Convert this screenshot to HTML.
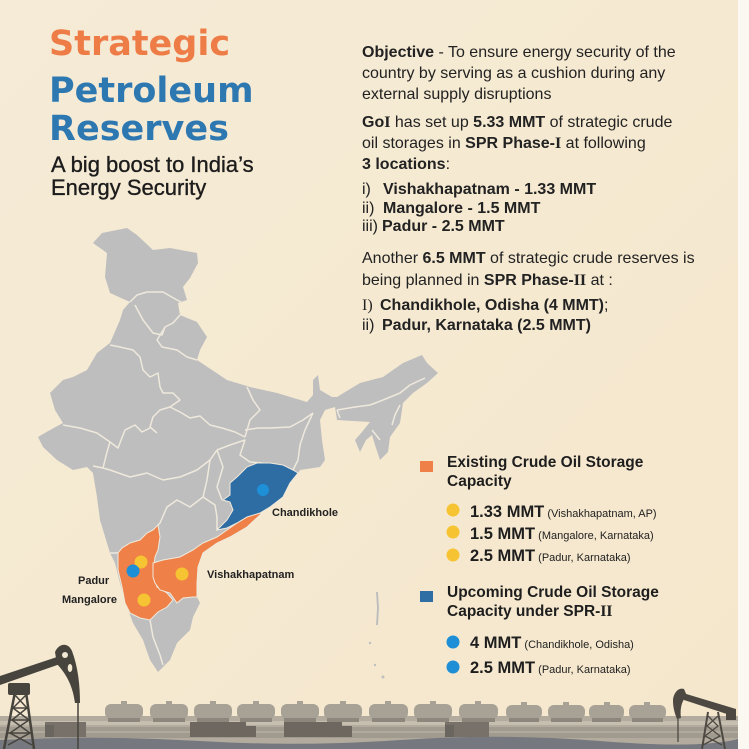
<!DOCTYPE html>
<html><head><meta charset="utf-8"><style>
html,body{margin:0;padding:0;background:#f5ead3;}
svg{display:block;}
</style></head><body>
<svg width="749" height="749" viewBox="0 0 749 749" xmlns="http://www.w3.org/2000/svg">
<defs>
<linearGradient id="bg" x1="0" y1="0" x2="1" y2="1">
<stop offset="0" stop-color="#f5ebd6"/><stop offset="1" stop-color="#f5e7cc"/>
</linearGradient>
</defs>
<rect x="0" y="0" width="749" height="749" fill="url(#bg)"/>

<!-- Title -->
<g font-family="DejaVu Sans, Liberation Sans, sans-serif" font-weight="bold" font-size="35">
<text x="49" y="55" fill="#ee7c46">Strategic</text>
<text x="49" y="102" fill="#2e78b2">Petroleum</text>
<text x="49" y="140" fill="#2e78b2">Reserves</text>
</g>
<g font-family="Liberation Sans, sans-serif" font-size="22" fill="#1c1c1c" stroke="#1c1c1c" stroke-width="0.35">
<text x="51" y="172">A big boost to India’s</text>
<text x="51" y="195">Energy Security</text>
</g>

<!-- Right text block -->
<g font-family="Liberation Sans, sans-serif" font-size="16" fill="#222">
<text x="362" y="57"><tspan font-weight="bold">Objective</tspan> - To ensure energy security of the</text>
<text x="362" y="78">country by serving as a cushion during any</text>
<text x="362" y="99">external supply disruptions</text>
<text x="362" y="127"><tspan font-weight="bold">Go</tspan><tspan font-weight="bold" font-family="Liberation Serif, serif">I</tspan> has set up <tspan font-weight="bold">5.33 MMT</tspan> of strategic crude</text>
<text x="362" y="148">oil storages in <tspan font-weight="bold">SPR Phase-</tspan><tspan font-weight="bold" font-family="Liberation Serif, serif">I</tspan> at following</text>
<text x="362" y="169"><tspan font-weight="bold">3 locations</tspan>:</text>
<text x="362" y="194">i)</text><text x="383" y="194" font-weight="bold">Vishakhapatnam - 1.33 MMT</text>
<text x="362" y="213">ii)</text><text x="383" y="213" font-weight="bold">Mangalore - 1.5 MMT</text>
<text x="362" y="231">iii)</text><text x="382" y="231" font-weight="bold">Padur - 2.5 MMT</text>
<text x="362" y="263">Another <tspan font-weight="bold">6.5 MMT</tspan> of strategic crude reserves is</text>
<text x="362" y="285">being planned in <tspan font-weight="bold">SPR Phase-</tspan><tspan font-weight="bold" font-family="Liberation Serif, serif">II</tspan> at :</text>
<text x="362" y="310" font-family="Liberation Serif, serif">I)</text><text x="380" y="310"><tspan font-weight="bold">Chandikhole, Odisha (4 MMT)</tspan>;</text>
<text x="362" y="330">ii)</text><text x="382" y="330" font-weight="bold">Padur, Karnataka (2.5 MMT)</text>
</g>

<!-- Map -->
<path fill="#bebebf" d="M93,243 L102,233 L127,228 L137,235 L153,250 L170,248 L197,253 L198,263 L190,278 L183,287 L187,300 L178,303 L180,315 L197,322 L207,337 L200,350 L197,360 L227,380 L250,387 L277,393 L307,402 L313,395 L313,380 L318,375 L320,390 L332,397 L337,397 L360,383 L383,377 L403,363 L422,355 L427,363 L438,373 L427,383 L413,393 L403,403 L400,423 L390,437 L388,452 L380,460 L375,445 L372,435 L366,440 L360,452 L355,440 L362,432 L370,422 L337,420 L335,407 L325,410 L320,420 L322,440 L325,460 L320,467 L300,470 L298,473 L290,483 L283,497 L270,507 L260,513 L247,527 L230,537 L217,543 L203,553 L198,567 L197,583 L197,597 L200,603 L193,617 L190,630 L177,643 L170,660 L158,672 L150,660 L143,640 L133,623 L127,607 L120,583 L115,563 L110,553 L100,520 L97,497 L93,473 L87,467 L73,470 L57,460 L43,447 L38,437 L50,430 L63,423 L55,410 L50,393 L63,380 L73,377 L87,370 L97,353 L110,343 L120,320 L123,310 L130,302 L110,293 L105,277 L107,253 Z"/>
<!-- Andaman islands -->
<path d="M377,592 L378,608 L377,625" stroke="#bebebf" stroke-width="2" fill="none"/>
<circle cx="370" cy="643" r="1.2" fill="#bebebf"/><circle cx="375" cy="665" r="1.2" fill="#bebebf"/><circle cx="383" cy="677" r="1.5" fill="#bebebf"/>

<!-- state borders -->
<g fill="none" stroke="#efe9dc" stroke-width="1.5" stroke-linejoin="round">
<polyline points="130,302 137,295 147,292 163,292 177,300 183,303"/>
<polyline points="135,305 143,320 153,333 162,335 165,327 173,323 180,315"/>
<polyline points="165,327 157,340 162,347 177,350 187,357 197,360"/>
<polyline points="110,345 120,347 133,350 140,357 143,370 150,377 158,373 160,387 163,393 173,393 180,400 170,407 160,410 153,417 150,427 157,433"/>
<polyline points="63,425 80,428 97,433 110,442 118,448 125,430 135,425 142,432 150,428"/>
<polyline points="170,407 180,412 190,418 200,416 210,425 222,428 235,432 245,437"/>
<polyline points="247,387 253,400 260,410 250,420 245,437"/>
<polyline points="245,430 258,428 270,428 290,427 303,420 313,413"/>
<polyline points="217,450 230,445 245,440 240,455 250,462 262,463"/>
<polyline points="93,466 103,468 110,470 130,477 147,473 163,480 180,477 197,470 210,460 217,450"/>
<polyline points="110,442 107,452 103,468"/>
<polyline points="210,460 207,480 203,497 190,507 177,500 167,507 160,523 158,525"/>
<polyline points="203,497 215,505 217,517 217,530"/>
<polyline points="217,450 223,467 217,487 222,500"/>
<polyline points="150,620 153,637 160,655 163,665"/>
<polyline points="110,553 118,553"/>
<polyline points="313,413 305,430 300,445 298,460 293,470"/>
<polyline points="337,410 355,407 370,405 383,400 400,393 410,385 425,378"/>
<polyline points="337,410 340,418"/>
<polyline points="400,405 395,415 392,425"/>
<polyline points="372,430 380,440"/>
</g>

<!-- Karnataka -->
<polygon fill="#ee8048" stroke="#f0eadc" stroke-width="1" points="158,525 160,537 158,550 155,557 153,573 157,587 167,593 173,600 167,607 158,612 150,620 140,618 130,613 125,603 122,587 118,570 118,553 122,548 130,543 140,540 147,533 153,530"/>
<!-- Andhra Pradesh -->
<polygon fill="#ee8048" stroke="#f0eadc" stroke-width="1" points="153,563 163,560 180,557 193,550 203,543 217,537 227,530 237,523 247,517 253,513 262,513 260,515 247,527 230,537 217,543 203,553 198,567 197,583 197,597 193,597 183,598 177,603 170,593 160,590 155,583 153,577"/>
<!-- Odisha -->
<polygon fill="#2e6ca4" stroke="#f0eadc" stroke-width="1" points="217,530 227,520 233,510 230,502 223,500 230,495 230,483 237,477 247,467 257,463 270,463 283,465 293,470 298,473 290,483 283,497 270,507 260,513 247,517 237,523 227,528"/>

<!-- dots -->
<circle cx="263" cy="490" r="6" fill="#1e90d8"/>
<circle cx="141" cy="562" r="6.5" fill="#f6c432"/>
<circle cx="133" cy="571" r="6.5" fill="#1e8fd6"/>
<circle cx="144" cy="600" r="6.5" fill="#f6c432"/>
<circle cx="182" cy="574" r="6.5" fill="#f6c432"/>

<!-- map labels -->
<g font-family="Liberation Sans, sans-serif" font-weight="bold" font-size="11" fill="#222">
<text x="272" y="516">Chandikhole</text>
<text x="207" y="578">Vishakhapatnam</text>
<text x="78" y="584">Padur</text>
<text x="62" y="603">Mangalore</text>
</g>

<!-- Legend -->
<rect x="420" y="461" width="13" height="11" fill="#ee8048"/>
<rect x="420" y="591" width="13" height="11" fill="#2f6ea5"/>
<g font-family="Liberation Sans, sans-serif" fill="#1e1e1e">
<text x="447" y="467" font-weight="bold" font-size="15.5">Existing Crude Oil Storage</text>
<text x="447" y="486" font-weight="bold" font-size="15.5">Capacity</text>
<text x="447" y="597" font-weight="bold" font-size="15.5">Upcoming Crude Oil Storage</text>
<text x="447" y="616" font-weight="bold" font-size="15.5">Capacity under SPR-<tspan font-family="Liberation Serif, serif">II</tspan></text>
<text x="470" y="517"><tspan font-weight="bold" font-size="16.5">1.33 MMT</tspan><tspan font-size="11"> (Vishakhapatnam, AP)</tspan></text>
<text x="470" y="539"><tspan font-weight="bold" font-size="16.5">1.5 MMT</tspan><tspan font-size="11"> (Mangalore, Karnataka)</tspan></text>
<text x="470" y="561"><tspan font-weight="bold" font-size="16.5">2.5 MMT</tspan><tspan font-size="11"> (Padur, Karnataka)</tspan></text>
<text x="470" y="648"><tspan font-weight="bold" font-size="16.5">4 MMT</tspan><tspan font-size="11"> (Chandikhole, Odisha)</tspan></text>
<text x="470" y="673"><tspan font-weight="bold" font-size="16.5">2.5 MMT</tspan><tspan font-size="11"> (Padur, Karnataka)</tspan></text>
</g>
<circle cx="453" cy="510" r="6.5" fill="#f6c432"/>
<circle cx="453" cy="532" r="6.5" fill="#f6c432"/>
<circle cx="453" cy="555" r="6.5" fill="#f6c432"/>
<circle cx="453" cy="642" r="6.5" fill="#1e8fd6"/>
<circle cx="453" cy="667" r="6.5" fill="#1e8fd6"/>

<!-- Ground -->
<rect x="0" y="716" width="738" height="33" fill="#b3ac9e"/>
<rect x="0" y="721" width="738" height="4" fill="#c6bfaf"/>
<rect x="0" y="727" width="738" height="11" fill="#a09a8f"/>
<line x1="0" y1="732" x2="738" y2="732" stroke="#bbb4a5" stroke-width="1.2"/>
<path d="M0,740 Q100,735 200,741 T400,740 T600,741 T738,739 L738,749 L0,749 Z" fill="#76787f"/>

<!-- Tank cars -->
<g fill="#a8a196">
<rect x="105" y="704" width="38" height="15" rx="6"/><rect x="121" y="701" width="6" height="4"/>
<rect x="150" y="704" width="38" height="15" rx="6"/><rect x="166" y="701" width="6" height="4"/>
<rect x="194" y="704" width="38" height="15" rx="6"/><rect x="210" y="701" width="6" height="4"/>
<rect x="237" y="704" width="38" height="15" rx="6"/><rect x="253" y="701" width="6" height="4"/>
<rect x="281" y="704" width="38" height="15" rx="6"/><rect x="297" y="701" width="6" height="4"/>
<rect x="324" y="704" width="38" height="15" rx="6"/><rect x="340" y="701" width="6" height="4"/>
<rect x="369" y="704" width="39" height="15" rx="6"/><rect x="385" y="701" width="6" height="4"/>
<rect x="414" y="704" width="38" height="15" rx="6"/><rect x="430" y="701" width="6" height="4"/>
<rect x="459" y="704" width="39" height="15" rx="6"/><rect x="475" y="701" width="6" height="4"/>
<rect x="506" y="705" width="36" height="14" rx="6"/><rect x="521" y="702" width="6" height="4"/>
<rect x="548" y="705" width="37" height="14" rx="6"/><rect x="563" y="702" width="6" height="4"/>
<rect x="589" y="705" width="35" height="14" rx="6"/><rect x="604" y="702" width="6" height="4"/>
<rect x="629" y="705" width="37" height="14" rx="6"/><rect x="644" y="702" width="6" height="4"/>
</g>
<g fill="#8c867c">
<rect x="108" y="718" width="32" height="4"/><rect x="153" y="718" width="32" height="4"/><rect x="197" y="718" width="32" height="4"/>
<rect x="240" y="718" width="32" height="4"/><rect x="284" y="718" width="32" height="4"/><rect x="327" y="718" width="32" height="4"/>
<rect x="372" y="718" width="33" height="4"/><rect x="417" y="718" width="32" height="4"/><rect x="462" y="718" width="33" height="4"/>
<rect x="509" y="718" width="30" height="4"/><rect x="551" y="718" width="31" height="4"/><rect x="592" y="718" width="29" height="4"/>
<rect x="632" y="718" width="31" height="4"/>
</g>

<!-- Trucks -->
<g fill="#77716a">
<rect x="45" y="722" width="41" height="15"/><rect x="45" y="725" width="9" height="12" fill="#6a655e"/>
<rect x="190" y="722" width="56" height="15" fill="#6d675f"/><rect x="246" y="726" width="10" height="11" fill="#6d675f"/>
<rect x="284" y="722" width="58" height="15" fill="#6d675f"/><rect x="342" y="726" width="10" height="11" fill="#6d675f"/>
<rect x="445" y="722" width="44" height="15"/><rect x="445" y="725" width="9" height="12" fill="#6a655e"/>
</g>

<!-- Left pumpjack -->
<g fill="#47433d" stroke="#47433d">
<line x1="15" y1="692" x2="4" y2="749" stroke-width="2.5"/>
<line x1="26" y1="692" x2="34" y2="749" stroke-width="2.5"/>
<polyline points="15,695 27,708 12,720 30,733 8,745" fill="none" stroke-width="1.5"/>
<polyline points="26,695 13,708 29,720 10,733 32,745" fill="none" stroke-width="1.5"/>
<line x1="12" y1="708" x2="28" y2="708" stroke-width="1.5"/>
<line x1="10" y1="720" x2="30" y2="720" stroke-width="1.5"/>
<line x1="7" y1="733" x2="32" y2="733" stroke-width="1.5"/>
<rect x="8" y="683" width="22" height="12" rx="2" stroke="none"/>
<polygon points="0,676 60,656 63,663 0,685" stroke="none"/>
<path d="M55,652 C59,643 68,642 72,651 C78,667 80,685 80,703 L75,703 C73,688 68,676 57,664 Z" stroke="none"/>
<line x1="78" y1="703" x2="78" y2="749" stroke-width="1.5"/>
</g>
<ellipse cx="65" cy="655" rx="3" ry="3" fill="#f3e8d1"/>
<ellipse cx="70" cy="668" rx="2.3" ry="4" fill="#f3e8d1"/>

<!-- Right pumpjack -->
<g fill="#4d4942" stroke="#4d4942">
<line x1="708" y1="712" x2="702" y2="749" stroke-width="2"/>
<line x1="718" y1="712" x2="725" y2="749" stroke-width="2"/>
<polyline points="708,716 718,726 705,736 722,745" fill="none" stroke-width="1.3"/>
<polyline points="718,716 707,726 720,736 703,745" fill="none" stroke-width="1.3"/>
<polygon points="683,693 736,709 736,717 684,700" stroke="none"/>
<path d="M684,689 C678,687 673,694 673,701 C673,708 675,714 677,719 L681,718 C680,710 681,701 687,696 Z" stroke="none"/>
<line x1="678" y1="718" x2="678" y2="742" stroke-width="1.3"/>
<rect x="726" y="712" width="10" height="8" stroke="none"/>
</g>

<!-- right white strip -->
<rect x="738" y="0" width="11" height="749" fill="#fbf8f2"/>
</svg>
</body></html>
